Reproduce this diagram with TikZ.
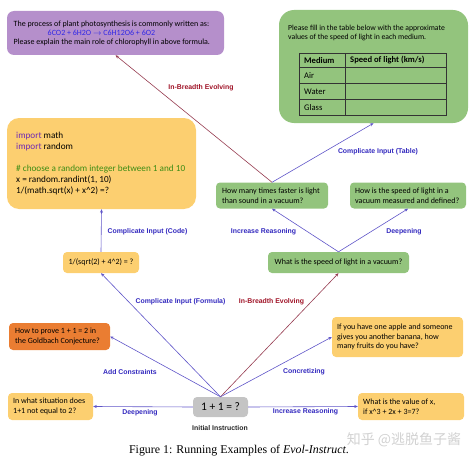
\documentclass[tikz,border=0pt]{standalone}
\usepackage{fontspec}
\setmainfont{Carlito}
\newfontfamily\labfont{Liberation Sans}
\newfontfamily\capfont{Liberation Serif}
\newfontfamily\cjkfont{Noto Sans CJK SC}
\usetikzlibrary{arrows.meta}
\definecolor{purplebox}{RGB}{181,143,203}
\definecolor{greenbox}{RGB}{147,196,125}
\definecolor{yellowbox}{RGB}{252,207,112}
\definecolor{orangebox}{RGB}{234,125,50}
\definecolor{graybox}{RGB}{196,196,196}
\definecolor{labblue}{RGB}{50,40,190}
\definecolor{labred}{RGB}{160,20,40}
\definecolor{lineblue}{RGB}{95,85,200}
\definecolor{linered}{RGB}{150,60,80}
\definecolor{formblue}{RGB}{50,40,230}
\definecolor{kwpurple}{RGB}{110,40,180}
\definecolor{cmtgreen}{RGB}{60,140,20}
\begin{document}
\begin{tikzpicture}[x=1pt,y=-1pt,
  bx/.style={rounded corners=4pt, inner sep=0pt},
  txt/.style={anchor=west, inner sep=0pt, align=left, font=\fontsize{8}{9.8}\selectfont},
  lbl/.style={font=\labfont\bfseries\fontsize{6.9}{8}\selectfont, text=labblue, inner sep=0pt},
  rlbl/.style={lbl, text=labred},
  cell/.style={anchor=west, inner sep=0pt, font=\fontsize{8.6}{9}\selectfont},
  barrow/.style={draw=lineblue, line width=0.6pt, -{Stealth[length=3.5pt,width=3pt]}},
  rarrow/.style={draw=linered, line width=0.6pt, -{Stealth[length=3.5pt,width=3pt]}}]
\useasboundingbox (0,0) rectangle (474,460);

% boxes
\node[bx, fill=purplebox, rounded corners=7pt, minimum width=217pt, minimum height=44pt] (photo) at (115.5,33) {};
\node[txt, font=\fontsize{8}{9.3}\selectfont] (photot) at (13.5,33.5)
  {The process of plant photosynthesis is commonly written as:\\
   \hspace*{34pt}\textcolor{formblue}{6CO2 + 6H2O $\rightarrow$ C6H12O6 + 6O2}\\
   Please explain the main role of chlorophyll in above formula.};

\node[bx, fill=greenbox, rounded corners=15pt, minimum width=189pt, minimum height=113pt] (tbl) at (373.5,66.5) {};
\node[txt, font=\fontsize{7.7}{9.3}\selectfont] (tbltext) at (288,33)
  {Please fill in the table below with the approximate\\values of the speed of light in each medium.};
\draw[line width=0.7pt, black!80] (299,53.3) rectangle (446.7,115);
\foreach \yy in {67.7,83.3,99.3} \draw[line width=0.7pt, black!80] (299,\yy) -- (446.7,\yy);
\draw[line width=0.7pt, black!80] (345.7,53.3) -- (345.7,115);
\node[cell, font=\bfseries\fontsize{8.6}{9}\selectfont] (c11) at (304,60.5) {Medium};
\node[cell, font=\bfseries\fontsize{8.6}{9}\selectfont] (c12) at (350,60.5) {Speed of light (km/s)};
\node[cell] (c21) at (304,75.5) {Air};
\node[cell] (c31) at (304,91.3) {Water};
\node[cell] (c41) at (304,107.2) {Glass};

\node[bx, fill=yellowbox, rounded corners=12pt, minimum width=189pt, minimum height=91pt] (code) at (101.5,163.5) {};
\node[txt, font=\fontsize{9.2}{11}\selectfont] (codet) at (16,164)
  {\textcolor{kwpurple}{import} math\\
   \textcolor{kwpurple}{import} random\\[11pt]
   \textcolor{cmtgreen}{\# choose a random integer between 1 and 10}\\
   x = random.randint(1, 10)\\
   1/(math.sqrt(x) + x\^{}2) =?};

\node[bx, fill=greenbox, minimum width=112pt, minimum height=26pt] (howmany) at (272,195.5) {};
\node[txt] (howmanyt) at (222,195.5) {How many times faster is light\\than sound in a vacuum?};
\node[bx, fill=greenbox, minimum width=116pt, minimum height=26pt] (howis) at (408,195.5) {};
\node[txt] (howist) at (355,195.5) {How is the speed of light in a\\vacuum measured and defined?};
\node[bx, fill=greenbox, minimum width=141pt, minimum height=21pt, font=\fontsize{8}{9.8}\selectfont] (whatis) at (338.5,262.5)
  {What is the speed of light in a vacuum?};
\node[bx, fill=yellowbox, minimum width=76pt, minimum height=21pt, font=\fontsize{8}{9.8}\selectfont] (formula) at (101,262.5)
  {1/(sqrt(2) + 4\^{}2) = ?};
\node[bx, fill=orangebox, minimum width=101pt, minimum height=27pt] (gold) at (59.5,336.5) {};
\node[txt] (goldt) at (15,336.5) {How to prove 1 + 1 = 2 in\\the Goldbach Conjecture?};
\node[bx, fill=yellowbox, minimum width=131pt, minimum height=40pt] (apple) at (397.5,337) {};
\node[txt] (applet) at (337,337) {If you have one apple and someone\\gives you another banana, how\\many fruits do you have?};
\node[bx, fill=yellowbox, minimum width=85pt, minimum height=27pt] (situ) at (50.5,406.5) {};
\node[txt] (situt) at (13,406.5) {In what situation does\\1+1 not equal to 2?};
\node[bx, fill=graybox, minimum width=55pt, minimum height=20pt, font=\fontsize{11.5}{13}\selectfont] (init) at (220.5,407)
  {1 + 1 = ?};
\node[bx, fill=yellowbox, minimum width=106pt, minimum height=27pt] (valx) at (411,406.5) {};
\node[txt] (valxt) at (363,406.5) {What is the value of x,\\if x\^{}3 + 2x + 3=7?};

% connectors
\draw[barrow] (init.north) -- (gold.east);
\draw[barrow] (init.north) -- (formula.south);
\draw[rarrow] (init.north) -- (whatis.south);
\draw[barrow] (init.north) -- (apple.west);
\draw[barrow] (init.west) -- (situ.east);
\draw[barrow] (init.east) -- (valx.west);
\draw[barrow] (formula.north) -- (code.south);
\draw[barrow] (whatis.north) -- (howmany.south);
\draw[barrow] (whatis.north) -- (howis.south);
\draw[rarrow] (howmany.north) -- (photo.south);
\draw[barrow] (howmany.north) -- (tbl.south);

% labels
\node[rlbl] (l1) at (201,88) {In-Breadth Evolving};
\node[lbl] (l2) at (378,152) {Complicate Input (Table)};
\node[lbl] (l3) at (147.5,232) {Complicate Input (Code)};
\node[lbl] (l4) at (263.5,232) {Increase Reasoning};
\node[lbl] (l5) at (404,232) {Deepening};
\node[lbl] (l6) at (180.5,302) {Complicate Input (Formula)};
\node[rlbl] (l7) at (271.5,302) {In-Breadth Evolving};
\node[lbl] (l8) at (130,372) {Add Constraints};
\node[lbl] (l9) at (304,372) {Concretizing};
\node[lbl] (l10) at (140,413) {Deepening};
\node[lbl] (l11) at (305.5,412) {Increase Reasoning};
\node[lbl, text=black!85] (l12) at (220,428) {Initial Instruction};

\node[inner sep=0pt, font=\cjkfont\fontsize{14}{16}\selectfont, text=black!18] (wm) at (404,440) {知乎 @逃脱鱼子酱};
\node[inner sep=0pt, font=\capfont\fontsize{11.9}{14}\selectfont] (cap) at (239,451) {Figure 1: Running Examples of \textit{Evol-Instruct}.};
\end{tikzpicture}
\end{document}
